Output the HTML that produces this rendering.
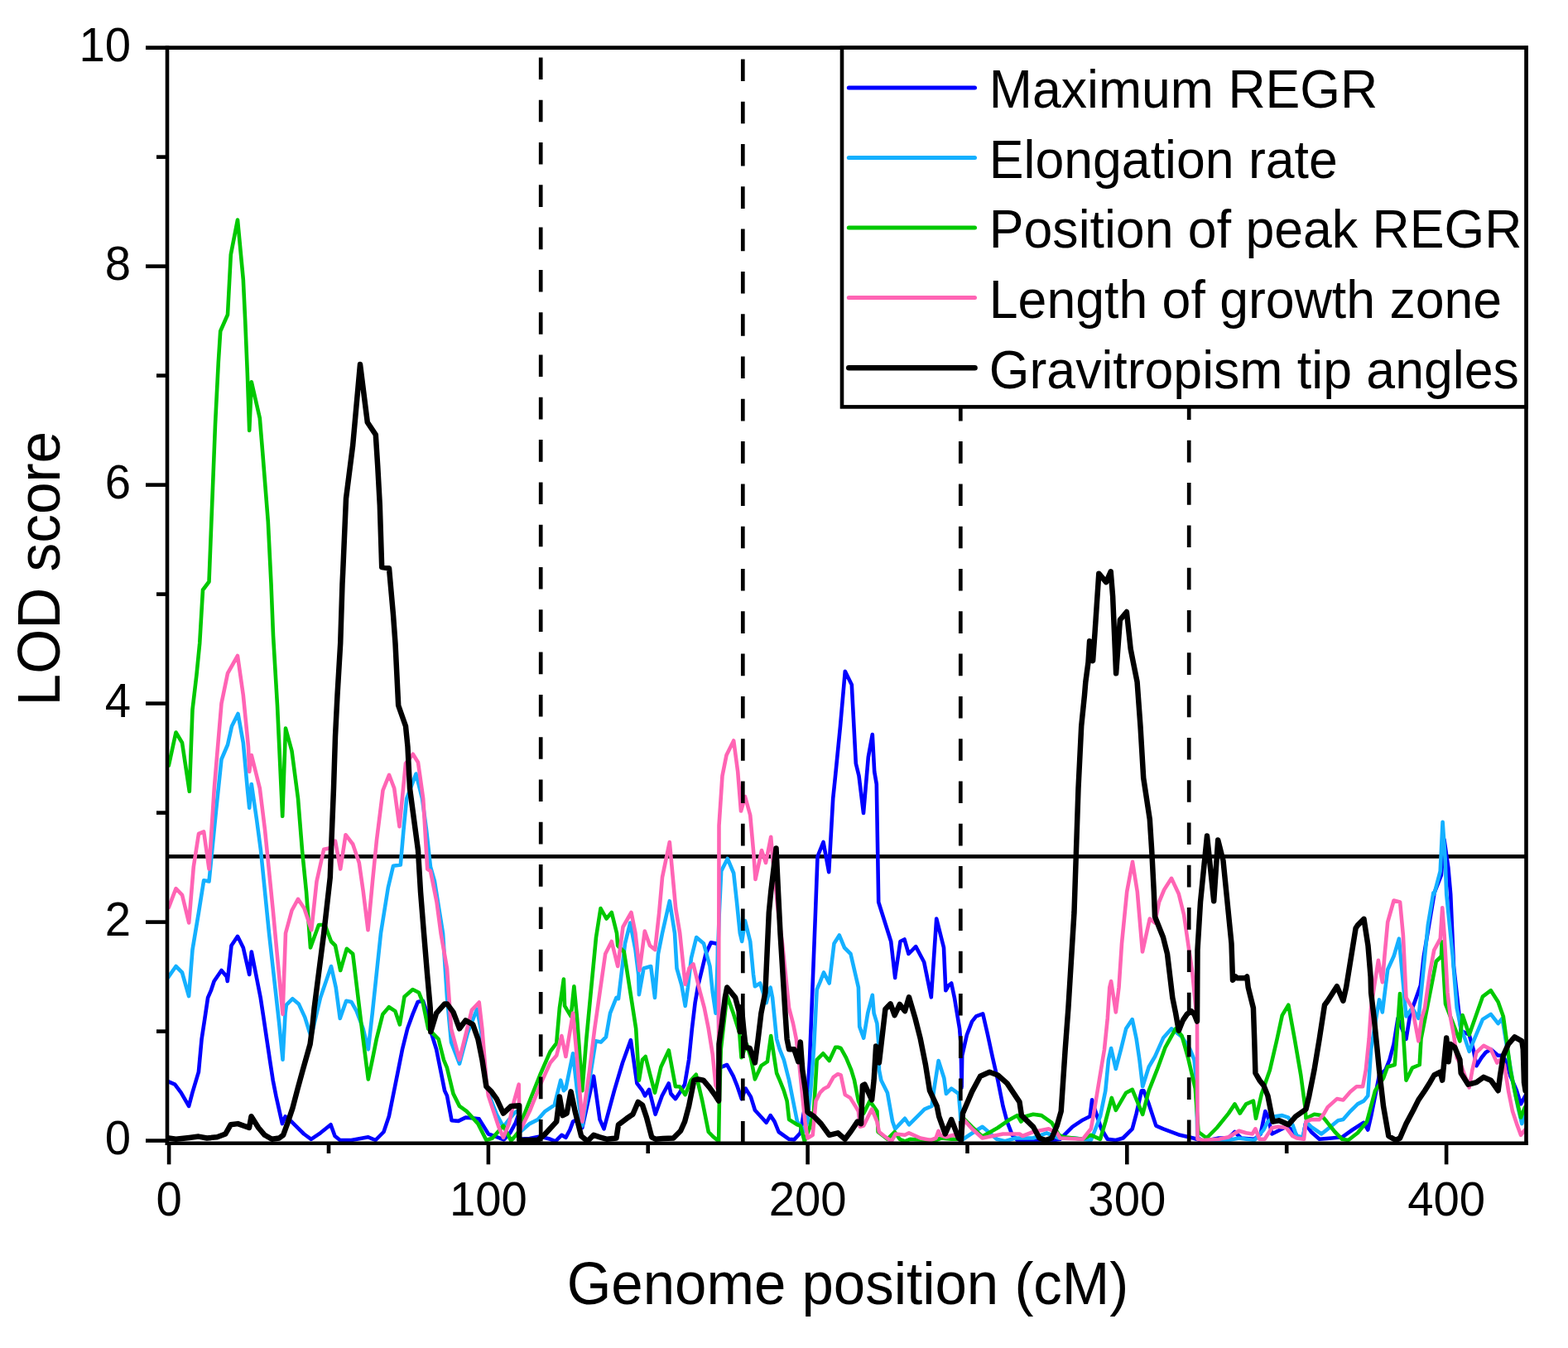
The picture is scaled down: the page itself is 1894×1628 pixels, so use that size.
<!DOCTYPE html>
<html><head><meta charset="utf-8"><title>LOD score plot</title>
<style>html,body{margin:0;padding:0;background:#fff;}svg{display:block;}
text{font-family:"Liberation Sans",Arial,sans-serif;fill:#000;}</style></head>
<body><svg width="1894" height="1628" viewBox="0 0 1894 1628">
<rect width="1894" height="1628" fill="#fff"/>
<defs><clipPath id="pc"><rect x="202" y="57.6" width="1641.5" height="1323"/></clipPath></defs>
<line x1="202" y1="1034.4" x2="1843.5" y2="1034.4" stroke="#000" stroke-width="4.7"/>
<g clip-path="url(#pc)" fill="none" stroke-linejoin="round" stroke-linecap="round">
<path d="M202.5 1305.9 L211.2 1309.7 L218.7 1319.7 L228.1 1335.9 L232.4 1319.7 L239.9 1294.7 L243.6 1254.8 L247.4 1229.9 L251.1 1204.9 L254.9 1196.2 L258.6 1185.0 L267.5 1172.0 L273.8 1179.5 L274.8 1185.0 L279.5 1142.0 L287.0 1130.8 L293.8 1144.5 L301.2 1177.0 L303.8 1149.5 L314.7 1204.9 L318.5 1229.9 L322.2 1254.8 L325.9 1279.8 L329.7 1304.7 L333.4 1323.4 L340.9 1357.1 L344.6 1348.3 L350.9 1353.3 L358.4 1360.8 L367.1 1369.5 L375.8 1375.8 L387.0 1368.3 L399.5 1358.3 L404.5 1372.0 L410.7 1377.0 L424.4 1377.0 L444.8 1373.3 L453.6 1377.0 L463.5 1367.0 L469.8 1348.3 L474.8 1323.4 L479.8 1298.5 L486.0 1267.3 L492.2 1242.3 L498.5 1224.9 L504.7 1209.9 L510.9 1208.7 L515.9 1223.6 L520.9 1247.3 L527.1 1267.3 L532.1 1292.2 L537.1 1317.2 L540.0 1323.4 L545.6 1353.3 L553.7 1353.9 L562.4 1349.6 L569.9 1350.2 L578.7 1351.4 L589.9 1369.5 L598.6 1372.6 L608.6 1376.4 L616.1 1368.3 L622.9 1355.8 L626.0 1347.1 L626.9 1375.8 L639.8 1375.1 L652.2 1372.6 L664.7 1375.8 L670.9 1378.3 L678.4 1370.8 L683.4 1373.9 L688.4 1364.5 L692.1 1354.6 L697.1 1352.1 L703.3 1362.0 L717.1 1299.7 L724.5 1352.1 L729.5 1363.3 L742.0 1317.2 L752.0 1283.5 L761.9 1256.1 L769.4 1308.4 L776.0 1317.2 L779.1 1323.4 L784.1 1315.9 L791.6 1345.8 L799.7 1323.4 L807.8 1308.4 L810.3 1320.9 L815.9 1327.1 L820.9 1319.7 L827.1 1309.7 L832.1 1279.8 L835.9 1242.3 L839.6 1211.2 L843.3 1190.0 L852.5 1152.0 L858.8 1138.2 L865.0 1139.5 L867.0 1139.5 L868.9 1289.7 L878.2 1286.0 L885.7 1299.7 L890.7 1312.2 L895.7 1327.1 L900.7 1314.7 L906.9 1324.6 L911.9 1340.8 L925.6 1355.8 L930.6 1347.1 L935.6 1354.6 L940.6 1367.0 L953.1 1375.8 L959.3 1376.4 L966.8 1368.3 L970.5 1345.8 L975.5 1323.4 L978.0 1279.8 L980.5 1217.4 L985.0 1102.0 L987.5 1034.5 L994.5 1017.0 L1001.2 1053.2 L1006.2 964.5 L1008.8 939.5 L1015.0 877.0 L1020.8 810.8 L1028.8 827.0 L1033.8 922.0 L1037.5 937.0 L1043.0 982.0 L1048.8 914.5 L1053.8 887.0 L1056.2 932.0 L1058.8 947.0 L1061.2 1089.5 L1076.2 1137.0 L1081.2 1181.0 L1081.2 1179.5 L1087.5 1137.0 L1092.5 1134.5 L1097.5 1152.0 L1106.2 1143.2 L1116.2 1162.0 L1124.8 1204.3 L1131.2 1109.5 L1140.0 1144.5 L1142.3 1196.2 L1146.0 1190.0 L1149.2 1187.5 L1152.9 1204.9 L1156.6 1227.4 L1159.1 1242.3 L1160.6 1261.0 L1161.6 1313.4 L1162.2 1274.8 L1167.9 1249.8 L1174.1 1233.6 L1179.1 1227.4 L1187.2 1224.3 L1192.8 1248.6 L1199.0 1277.3 L1205.3 1304.7 L1211.5 1335.9 L1216.5 1354.6 L1222.7 1370.8 L1229.0 1377.0 L1236.4 1377.0 L1248.0 1377.0 L1266.7 1378.3 L1280.4 1375.8 L1295.4 1360.8 L1306.6 1353.3 L1316.6 1348.3 L1319.1 1328.4 L1321.6 1337.1 L1325.3 1348.3 L1330.3 1363.3 L1337.8 1375.8 L1347.8 1377.0 L1356.5 1374.5 L1367.7 1363.3 L1372.7 1344.6 L1378.9 1317.2 L1381.4 1317.2 L1387.7 1333.4 L1396.4 1359.6 L1405.1 1363.3 L1425.1 1370.8 L1441.3 1374.5 L1453.7 1378.3 L1472.4 1374.5 L1484.0 1374.5 L1491.5 1367.0 L1499.0 1374.5 L1515.2 1375.8 L1522.7 1369.5 L1528.3 1342.1 L1531.4 1348.3 L1536.4 1369.5 L1546.3 1364.5 L1553.8 1360.8 L1561.3 1364.5 L1568.8 1374.5 L1573.8 1374.5 L1576.9 1357.1 L1583.8 1367.0 L1593.7 1375.8 L1608.7 1374.5 L1621.2 1373.3 L1633.6 1364.5 L1647.3 1355.8 L1652.3 1364.5 L1656.1 1348.3 L1661.1 1323.4 L1666.0 1298.5 L1673.5 1292.2 L1678.5 1279.8 L1683.5 1261.0 L1688.5 1229.9 L1698.5 1254.8 L1703.5 1223.6 L1708.4 1211.2 L1715.9 1190.0 L1719.8 1154.8 L1732.3 1080.0 L1732.6 1078.2 L1740.9 1056.8 L1744.5 1014.0 L1749.3 1047.3 L1752.2 1080.0 L1756.0 1167.3 L1764.7 1244.8 L1774.7 1249.8 L1779.7 1267.3 L1783.4 1287.2 L1789.6 1277.3 L1794.6 1271.0 L1800.8 1267.3 L1809.6 1274.8 L1814.6 1274.8 L1819.6 1282.2 L1824.5 1299.7 L1832.0 1317.2 L1837.0 1333.4 L1843.2 1322.1" stroke="#0000ff" stroke-width="4.6"/>
<path d="M202.5 1181.2 L203.8 1179.5 L212.5 1167.0 L220.0 1174.5 L228.1 1203.1 L232.5 1147.0 L240.0 1102.0 L246.2 1063.2 L252.5 1064.5 L255.0 1039.5 L261.2 977.0 L267.5 917.0 L275.0 899.5 L280.0 877.0 L287.5 862.0 L293.8 897.0 L298.8 952.0 L301.2 975.8 L303.8 947.0 L310.0 989.5 L315.0 1027.0 L320.0 1077.0 L325.0 1127.0 L337.2 1236.1 L341.5 1279.8 L344.6 1223.6 L345.9 1213.7 L353.4 1206.2 L360.8 1212.4 L368.3 1228.6 L373.3 1244.8 L375.8 1252.3 L379.6 1236.1 L387.0 1204.9 L400.0 1167.0 L405.7 1192.5 L410.7 1229.9 L418.2 1208.7 L424.4 1209.9 L430.7 1221.1 L438.6 1242.3 L444.8 1267.3 L449.8 1223.6 L460.0 1127.0 L468.8 1072.0 L475.0 1045.8 L483.8 1044.5 L487.5 1002.0 L491.2 964.5 L502.5 934.5 L510.0 964.5 L515.0 1002.0 L520.0 1047.0 L525.0 1064.5 L535.0 1127.0 L540.0 1204.9 L545.0 1258.6 L555.0 1284.7 L564.9 1247.3 L576.2 1218.7 L581.1 1244.8 L587.4 1310.9 L593.6 1329.6 L599.9 1345.8 L608.0 1360.8 L614.8 1352.1 L621.0 1344.6 L626.0 1340.8 L629.8 1365.8 L639.8 1357.1 L649.7 1352.1 L658.5 1342.1 L669.7 1334.6 L677.2 1304.7 L680.9 1317.2 L683.4 1314.7 L692.1 1272.3 L697.1 1317.2 L703.3 1359.6 L712.1 1304.7 L719.6 1257.3 L725.8 1258.6 L732.0 1252.3 L737.0 1223.6 L744.5 1204.9 L747.0 1206.2 L755.0 1139.5 L761.2 1114.5 L767.5 1147.0 L771.2 1177.0 L771.9 1201.2 L777.5 1169.5 L786.2 1167.0 L791.0 1204.9 L795.0 1152.0 L800.0 1127.0 L808.8 1088.2 L815.0 1127.0 L817.5 1169.5 L823.4 1190.0 L827.7 1214.9 L830.9 1192.5 L835.0 1157.0 L841.2 1132.0 L850.0 1139.5 L857.5 1167.0 L860.8 1198.7 L864.5 1223.6 L868.8 1102.0 L871.2 1052.0 L878.8 1037.0 L886.2 1054.5 L890.0 1089.5 L893.8 1127.0 L896.2 1137.0 L900.0 1112.0 L906.2 1137.0 L910.0 1177.0 L911.9 1191.2 L918.1 1187.5 L920.6 1195.0 L925.6 1211.2 L930.6 1192.5 L933.1 1204.9 L938.1 1254.8 L941.8 1267.3 L946.8 1279.8 L953.1 1304.7 L958.0 1329.6 L963.0 1354.6 L966.8 1359.6 L970.5 1367.0 L975.5 1354.6 L979.2 1317.2 L983.0 1267.3 L986.7 1195.0 L990.5 1186.2 L995.0 1174.5 L1001.7 1187.5 L1007.5 1139.5 L1013.8 1129.5 L1020.0 1144.5 L1027.5 1152.0 L1036.9 1192.5 L1038.2 1239.9 L1043.2 1253.6 L1048.2 1223.6 L1053.8 1201.8 L1055.6 1223.6 L1059.4 1236.1 L1061.3 1261.0 L1061.9 1292.2 L1064.4 1304.7 L1071.9 1319.7 L1078.1 1354.6 L1081.2 1363.3 L1093.0 1350.8 L1098.0 1358.3 L1111.8 1344.6 L1116.7 1339.6 L1125.5 1335.9 L1128.0 1317.2 L1133.6 1281.0 L1140.4 1302.2 L1142.9 1320.9 L1149.2 1314.7 L1157.9 1320.9 L1159.8 1342.1 L1161.6 1377.0 L1172.8 1369.5 L1186.6 1360.8 L1194.0 1367.0 L1204.0 1375.8 L1214.0 1378.3 L1226.5 1374.5 L1236.4 1374.5 L1248.0 1374.5 L1264.2 1368.3 L1279.2 1374.5 L1297.9 1374.5 L1317.8 1377.0 L1322.8 1364.5 L1329.0 1348.3 L1335.3 1317.2 L1339.0 1279.8 L1342.1 1266.0 L1347.8 1291.0 L1354.0 1267.3 L1360.2 1242.3 L1367.7 1231.1 L1372.7 1254.8 L1376.4 1279.8 L1380.2 1312.2 L1387.7 1288.5 L1395.1 1276.0 L1405.1 1253.6 L1415.1 1242.3 L1427.6 1252.3 L1437.5 1267.3 L1442.5 1279.8 L1445.0 1304.7 L1446.3 1373.3 L1453.7 1378.3 L1472.4 1377.0 L1484.0 1377.0 L1496.5 1374.5 L1515.2 1377.0 L1526.4 1364.5 L1531.4 1354.6 L1540.1 1348.3 L1548.8 1347.1 L1556.3 1349.6 L1561.3 1358.3 L1566.3 1372.0 L1573.8 1373.3 L1577.5 1354.6 L1583.8 1360.8 L1596.2 1369.5 L1608.7 1359.6 L1616.2 1353.3 L1622.4 1352.1 L1631.1 1342.1 L1639.9 1333.4 L1647.3 1329.6 L1652.3 1323.4 L1656.1 1267.3 L1661.1 1236.1 L1666.0 1207.4 L1669.8 1222.4 L1673.5 1192.5 L1676.2 1171.0 L1683.6 1154.8 L1689.9 1133.6 L1698.5 1227.4 L1705.9 1217.4 L1713.4 1229.9 L1718.6 1179.8 L1724.8 1117.4 L1731.4 1078.2 L1732.3 1080.0 L1739.7 1052.1 L1742.6 992.7 L1745.7 1037.8 L1747.2 1080.0 L1754.7 1154.8 L1759.7 1217.4 L1764.7 1242.3 L1769.7 1254.8 L1774.7 1269.8 L1780.9 1254.8 L1790.9 1231.1 L1800.8 1224.9 L1809.6 1236.1 L1814.6 1229.9 L1819.6 1261.0 L1827.0 1304.7 L1833.3 1335.9 L1838.3 1357.1 L1842.0 1342.1" stroke="#14b0ff" stroke-width="4.6"/>
<path d="M203.8 924.5 L212.5 884.5 L220.0 897.0 L228.8 955.8 L232.5 857.0 L237.5 814.5 L241.2 777.0 L245.0 712.5 L252.5 702.5 L260.0 512.5 L263.8 437.5 L266.2 400.0 L275.0 380.0 L278.8 307.5 L287.0 265.5 L293.8 337.5 L296.2 387.5 L298.8 450.0 L301.2 520.0 L303.8 461.2 L313.8 505.0 L317.5 550.0 L323.8 630.0 L327.5 705.0 L330.0 767.5 L335.0 852.0 L341.2 985.8 L345.0 879.5 L352.5 907.0 L360.0 964.5 L365.0 1027.0 L370.0 1077.0 L375.0 1144.5 L385.0 1117.0 L392.5 1117.0 L400.0 1137.0 L405.0 1142.0 L411.2 1172.0 L418.8 1145.8 L426.2 1152.0 L438.6 1254.8 L444.8 1303.4 L449.8 1279.8 L454.8 1254.8 L462.3 1224.9 L469.8 1216.2 L477.3 1221.1 L482.9 1237.4 L488.5 1203.7 L498.5 1195.0 L505.9 1198.7 L510.9 1211.2 L517.2 1242.3 L523.4 1248.6 L529.6 1254.8 L535.9 1279.8 L540.0 1289.7 L547.5 1320.9 L555.0 1335.9 L563.7 1342.1 L577.4 1357.1 L587.4 1377.0 L594.9 1374.5 L608.0 1359.6 L617.3 1377.6 L622.3 1372.0 L626.0 1367.0 L627.3 1360.8 L629.8 1354.6 L639.8 1329.6 L652.2 1298.5 L664.7 1269.8 L672.2 1259.8 L675.9 1217.4 L680.9 1182.5 L682.1 1214.9 L689.6 1227.4 L693.4 1191.2 L697.1 1229.9 L703.3 1317.2 L708.3 1254.8 L720.0 1132.0 L725.5 1097.0 L732.5 1109.5 L738.8 1102.0 L745.0 1127.0 L746.2 1142.0 L753.8 1149.5 L768.2 1242.3 L771.9 1304.7 L776.0 1279.8 L779.7 1276.0 L785.4 1298.5 L791.0 1319.7 L798.4 1288.5 L807.8 1268.5 L815.9 1312.2 L820.9 1312.2 L827.7 1322.1 L834.6 1304.7 L840.8 1297.8 L843.3 1308.4 L848.3 1329.6 L855.8 1367.0 L862.0 1373.3 L868.1 1378.3 L868.9 1329.6 L870.8 1267.3 L878.2 1202.4 L885.7 1223.6 L893.2 1247.3 L895.5 1277.3 L901.9 1261.0 L906.9 1277.3 L911.9 1303.4 L919.4 1287.2 L926.9 1282.2 L931.2 1251.1 L938.1 1296.0 L941.8 1304.7 L946.8 1317.2 L950.6 1329.6 L953.1 1352.1 L963.0 1358.3 L966.8 1359.6 L971.8 1378.3 L978.0 1362.0 L983.0 1342.1 L986.7 1279.8 L994.2 1272.3 L1001.7 1281.0 L1009.2 1264.8 L1012.0 1264.8 L1015.7 1266.0 L1022.0 1277.3 L1028.2 1292.2 L1032.0 1304.7 L1036.9 1329.6 L1043.2 1344.6 L1050.7 1329.6 L1059.4 1342.1 L1060.6 1367.0 L1071.9 1375.8 L1080.6 1367.0 L1086.8 1375.8 L1093.0 1378.3 L1099.3 1375.8 L1118.0 1377.0 L1130.5 1377.0 L1136.7 1374.5 L1149.2 1375.8 L1161.6 1375.8 L1162.9 1349.6 L1174.1 1360.8 L1186.6 1372.6 L1196.5 1367.0 L1205.3 1362.0 L1217.7 1353.3 L1229.0 1347.1 L1233.3 1354.6 L1238.9 1348.3 L1248.0 1345.8 L1258.0 1347.1 L1270.4 1355.8 L1279.2 1370.8 L1285.4 1373.3 L1307.9 1375.8 L1317.8 1370.8 L1329.0 1375.8 L1335.3 1354.6 L1342.8 1325.9 L1347.8 1340.8 L1360.2 1319.7 L1367.7 1315.9 L1380.2 1345.8 L1387.7 1317.2 L1397.6 1292.2 L1407.6 1264.8 L1420.1 1242.3 L1427.6 1251.1 L1435.0 1277.3 L1443.8 1314.7 L1447.5 1367.0 L1457.5 1374.5 L1469.9 1362.0 L1484.0 1344.6 L1491.5 1333.4 L1497.7 1344.6 L1505.2 1333.4 L1513.9 1329.6 L1517.0 1350.8 L1523.9 1320.9 L1533.9 1292.2 L1542.6 1254.8 L1548.8 1226.1 L1556.3 1213.7 L1563.8 1254.8 L1571.3 1298.5 L1576.3 1335.9 L1577.5 1350.8 L1587.5 1345.8 L1596.2 1347.1 L1602.5 1354.6 L1612.4 1367.0 L1621.2 1375.8 L1628.6 1377.0 L1639.9 1368.3 L1651.1 1354.6 L1656.1 1335.9 L1661.1 1317.2 L1671.0 1302.2 L1676.0 1288.5 L1684.7 1286.0 L1688.5 1236.1 L1691.0 1200.0 L1694.7 1242.3 L1698.5 1304.7 L1705.9 1289.7 L1714.7 1286.0 L1716.5 1254.8 L1734.8 1161.0 L1741.0 1154.8 L1741.6 1137.4 L1746.0 1212.4 L1754.7 1234.9 L1763.4 1257.3 L1766.6 1226.1 L1774.7 1249.8 L1790.9 1203.7 L1800.8 1196.2 L1809.6 1209.9 L1815.8 1227.4 L1819.6 1254.8 L1824.5 1292.2 L1830.8 1323.4 L1837.0 1349.6 L1842.0 1337.1" stroke="#00c800" stroke-width="4.6"/>
<path d="M203.8 1095.8 L212.5 1073.2 L220.0 1080.8 L228.2 1114.5 L233.8 1047.0 L240.0 1007.0 L246.2 1004.5 L252.5 1049.5 L258.8 952.0 L267.5 849.5 L275.0 813.2 L287.0 792.0 L293.8 839.5 L300.0 902.0 L301.2 932.0 L303.8 912.0 L313.8 952.0 L320.0 1002.0 L325.0 1052.0 L330.0 1102.0 L341.5 1224.9 L345.0 1127.0 L352.5 1099.5 L360.0 1085.8 L367.5 1097.0 L376.2 1123.2 L382.5 1064.5 L391.2 1025.8 L397.5 1024.5 L405.0 1015.8 L411.2 1049.5 L417.5 1008.2 L426.2 1019.5 L433.8 1042.0 L438.8 1077.0 L444.5 1123.2 L450.0 1064.5 L455.0 1014.5 L462.5 954.5 L470.0 935.8 L476.2 952.0 L482.5 998.2 L490.0 922.0 L498.8 910.8 L505.0 920.8 L511.2 964.5 L516.2 1049.5 L520.0 1052.0 L527.5 1089.5 L532.5 1127.0 L540.0 1170.0 L545.0 1242.3 L555.0 1279.8 L569.9 1219.9 L578.7 1210.5 L582.4 1242.3 L587.4 1304.7 L589.9 1323.4 L596.1 1342.1 L602.3 1360.8 L608.0 1373.9 L614.8 1357.1 L621.0 1329.6 L626.7 1309.7 L627.5 1367.0 L639.8 1342.1 L652.2 1310.9 L664.7 1283.5 L672.2 1274.8 L678.4 1251.1 L683.4 1276.0 L692.1 1223.6 L697.1 1279.8 L703.3 1354.6 L712.1 1292.2 L718.3 1242.3 L731.2 1152.0 L738.8 1137.0 L746.2 1167.0 L752.5 1119.5 L762.5 1102.0 L767.5 1127.0 L772.5 1172.0 L778.8 1124.5 L785.0 1142.0 L791.2 1147.0 L796.2 1102.0 L800.0 1059.5 L808.8 1017.0 L816.2 1097.0 L821.2 1127.0 L827.7 1188.7 L832.5 1169.5 L837.5 1164.5 L845.8 1198.7 L850.8 1217.4 L855.8 1242.3 L860.8 1273.5 L864.5 1310.9 L868.0 1317.2 L868.5 997.0 L872.5 937.0 L877.5 912.0 L886.2 894.5 L891.2 932.0 L895.0 979.5 L900.0 962.0 L906.2 984.5 L910.0 1027.0 L912.5 1062.0 L920.0 1027.0 L925.0 1042.0 L931.2 1010.8 L933.8 1042.0 L935.0 1052.0 L940.0 1102.0 L945.0 1139.5 L953.1 1217.4 L958.0 1236.1 L961.8 1254.8 L965.5 1286.0 L968.6 1317.2 L972.4 1354.6 L975.5 1374.5 L981.7 1370.8 L985.5 1329.6 L990.5 1319.7 L995.5 1314.7 L1000.4 1312.2 L1006.7 1300.9 L1012.0 1297.2 L1015.7 1298.5 L1020.7 1322.1 L1027.0 1325.9 L1033.2 1335.9 L1036.9 1342.1 L1038.8 1360.8 L1043.2 1359.6 L1053.1 1339.6 L1059.4 1354.6 L1061.9 1367.0 L1068.1 1372.0 L1076.8 1378.3 L1081.8 1369.5 L1093.0 1370.8 L1098.0 1368.3 L1111.8 1374.5 L1124.2 1377.0 L1130.5 1374.5 L1133.6 1365.8 L1135.4 1370.8 L1142.9 1373.3 L1151.7 1370.8 L1161.6 1374.5 L1164.1 1352.1 L1174.1 1363.3 L1186.6 1374.5 L1199.0 1372.0 L1211.5 1369.5 L1231.5 1369.5 L1235.2 1372.0 L1248.0 1367.0 L1266.7 1363.3 L1276.7 1368.3 L1280.4 1374.5 L1307.9 1375.8 L1317.8 1363.3 L1321.6 1342.1 L1327.8 1304.7 L1334.0 1267.3 L1337.8 1229.9 L1340.3 1192.5 L1342.1 1185.0 L1347.8 1222.4 L1351.5 1192.5 L1355.0 1139.5 L1361.2 1077.0 L1368.0 1040.8 L1373.8 1077.0 L1380.0 1149.5 L1388.8 1109.5 L1395.0 1114.5 L1400.0 1089.5 L1406.2 1074.5 L1415.0 1060.8 L1423.8 1079.5 L1430.0 1104.5 L1436.2 1147.0 L1440.0 1172.0 L1444.4 1217.4 L1446.0 1236.1 L1446.5 1375.8 L1453.7 1377.0 L1472.4 1375.8 L1484.0 1373.3 L1496.5 1365.8 L1505.2 1368.3 L1512.7 1369.5 L1516.4 1363.3 L1521.4 1375.8 L1527.6 1375.8 L1536.4 1362.0 L1543.9 1360.8 L1553.8 1362.0 L1561.3 1372.0 L1566.3 1374.5 L1575.0 1375.8 L1577.5 1354.6 L1583.8 1352.1 L1593.7 1352.1 L1598.7 1345.8 L1603.7 1337.1 L1614.9 1327.1 L1622.4 1328.4 L1631.1 1318.4 L1638.6 1312.2 L1646.1 1312.2 L1649.8 1292.2 L1653.6 1254.8 L1656.1 1217.4 L1659.8 1192.5 L1664.9 1159.8 L1669.8 1186.2 L1672.4 1154.8 L1676.2 1113.7 L1683.6 1087.5 L1691.1 1089.4 L1694.9 1129.9 L1698.5 1204.9 L1705.9 1217.4 L1713.4 1257.3 L1717.2 1229.9 L1721.0 1217.4 L1727.3 1173.5 L1732.3 1147.3 L1739.8 1133.6 L1742.2 1096.2 L1744.7 1129.9 L1748.5 1198.7 L1752.2 1229.9 L1756.0 1249.8 L1759.7 1277.3 L1764.7 1286.0 L1769.7 1299.7 L1774.7 1313.4 L1778.4 1292.2 L1783.4 1271.0 L1792.1 1262.9 L1800.8 1267.3 L1808.3 1283.5 L1812.1 1279.8 L1817.1 1286.0 L1822.0 1317.2 L1827.0 1342.1 L1832.0 1357.1 L1837.0 1370.8 L1843.2 1363.3" stroke="#ff64b4" stroke-width="4.6"/>
<path d="M203.7 1374.5 L212.5 1375.8 L228.7 1373.9 L239.9 1372.6 L249.9 1374.5 L262.3 1373.3 L272.3 1369.5 L278.6 1358.3 L287.3 1357.1 L301.0 1362.0 L303.5 1348.3 L312.2 1362.0 L319.7 1370.8 L328.4 1375.8 L337.2 1374.5 L342.1 1370.8 L347.1 1357.1 L353.4 1338.4 L359.6 1314.7 L365.8 1292.2 L374.6 1261.0 L377.1 1242.3 L379.6 1217.4 L391.2 1127.0 L398.8 1059.5 L400.0 1027.0 L403.0 952.0 L405.0 889.5 L407.5 839.5 L411.2 777.0 L413.5 705.0 L414.2 690.5 L418.0 602.0 L426.2 537.5 L435.0 440.0 L443.8 510.0 L453.8 525.0 L456.2 562.5 L458.8 610.0 L461.2 685.0 L470.0 686.2 L475.0 742.5 L477.5 777.0 L481.2 852.0 L490.0 877.0 L492.5 902.0 L495.0 952.0 L500.0 989.5 L505.0 1027.0 L508.0 1077.0 L512.0 1127.0 L516.0 1175.5 L519.7 1217.4 L520.3 1246.1 L527.1 1223.6 L537.1 1212.4 L540.0 1212.4 L547.5 1222.4 L555.0 1242.3 L562.4 1232.4 L571.2 1237.4 L577.4 1254.8 L582.4 1279.8 L587.4 1312.2 L593.6 1318.4 L599.9 1327.1 L608.0 1344.6 L617.3 1335.9 L627.2 1335.2 L627.3 1377.0 L649.7 1377.0 L658.5 1369.5 L672.2 1354.6 L675.9 1324.6 L679.7 1347.1 L684.6 1344.6 L689.6 1318.4 L694.6 1342.1 L702.1 1372.0 L709.6 1378.3 L717.1 1370.8 L724.5 1373.3 L733.3 1375.8 L744.5 1374.5 L747.0 1358.3 L757.0 1350.8 L764.4 1345.8 L770.7 1330.9 L776.0 1334.6 L781.0 1349.6 L787.2 1373.3 L792.2 1375.8 L800.9 1375.1 L813.4 1374.5 L822.1 1365.8 L827.1 1354.6 L832.1 1335.9 L838.3 1304.7 L843.3 1303.4 L849.6 1304.7 L857.0 1313.4 L863.3 1322.1 L868.1 1329.6 L868.5 1261.0 L872.0 1236.1 L875.8 1204.9 L878.2 1192.5 L888.2 1204.9 L892.6 1221.1 L893.8 1246.1 L895.7 1216.2 L898.2 1242.3 L900.7 1264.8 L905.7 1266.0 L911.9 1283.5 L915.7 1254.8 L919.4 1223.6 L924.4 1198.7 L928.8 1102.0 L931.2 1077.0 L937.5 1024.5 L940.0 1077.0 L942.5 1127.0 L948.1 1217.4 L950.6 1254.8 L953.1 1267.3 L959.3 1267.3 L964.3 1282.2 L966.8 1258.6 L969.3 1292.2 L973.0 1317.2 L975.5 1343.3 L983.0 1348.3 L991.7 1357.1 L1001.7 1370.8 L1012.0 1368.3 L1020.7 1375.8 L1028.2 1365.8 L1035.7 1354.6 L1040.1 1357.1 L1041.9 1310.9 L1044.4 1309.7 L1053.1 1328.4 L1055.6 1304.7 L1058.1 1263.5 L1061.9 1283.5 L1069.4 1218.7 L1075.6 1212.4 L1080.6 1226.1 L1086.8 1213.0 L1093.0 1221.1 L1098.0 1204.3 L1105.5 1229.9 L1111.8 1254.8 L1118.0 1286.0 L1123.0 1317.2 L1131.7 1335.9 L1134.2 1348.3 L1141.7 1369.5 L1149.2 1352.1 L1157.9 1374.5 L1161.0 1377.0 L1162.9 1344.6 L1174.1 1318.4 L1184.1 1299.7 L1195.3 1294.7 L1205.3 1298.5 L1216.5 1308.4 L1231.5 1330.9 L1233.9 1347.1 L1248.0 1360.8 L1255.5 1374.5 L1263.0 1377.0 L1270.4 1374.5 L1276.7 1359.6 L1281.7 1342.1 L1284.2 1304.7 L1286.7 1267.3 L1290.4 1217.4 L1297.5 1102.0 L1300.0 1027.0 L1302.5 952.0 L1306.2 877.0 L1310.0 839.5 L1311.3 823.7 L1314.5 799.7 L1316.1 774.2 L1320.1 798.1 L1322.5 764.6 L1327.3 692.7 L1336.1 703.1 L1341.7 690.3 L1344.1 719.9 L1348.1 813.3 L1352.9 748.6 L1360.9 739.0 L1365.7 783.8 L1368.8 799.7 L1373.6 823.7 L1377.5 877.0 L1381.2 939.5 L1388.8 989.5 L1391.2 1027.0 L1393.8 1077.0 L1395.0 1107.0 L1405.0 1132.0 L1410.0 1152.0 L1416.3 1204.9 L1420.1 1223.6 L1423.8 1244.8 L1428.8 1232.4 L1433.8 1224.9 L1438.8 1221.1 L1442.5 1224.9 L1446.0 1233.6 L1446.5 1147.0 L1450.0 1089.5 L1458.0 1009.5 L1466.2 1088.2 L1471.2 1014.5 L1477.5 1039.5 L1482.5 1089.5 L1487.5 1139.5 L1489.0 1183.7 L1492.5 1179.5 L1494.0 1181.2 L1504.0 1181.2 L1506.2 1179.5 L1507.7 1192.5 L1513.9 1217.4 L1515.2 1254.8 L1516.4 1296.0 L1521.4 1304.7 L1526.4 1310.9 L1531.4 1323.4 L1535.1 1342.1 L1537.6 1354.6 L1545.1 1353.3 L1556.3 1358.3 L1565.0 1348.3 L1577.5 1339.6 L1581.3 1323.4 L1587.5 1292.2 L1593.7 1254.8 L1600.0 1213.7 L1603.7 1208.7 L1614.9 1191.2 L1622.4 1208.7 L1626.1 1192.5 L1637.6 1121.0 L1640.0 1117.4 L1647.5 1109.9 L1652.5 1142.3 L1655.6 1179.8 L1656.1 1198.7 L1659.8 1229.9 L1666.0 1292.2 L1671.0 1335.9 L1677.3 1372.0 L1686.0 1377.0 L1691.0 1374.5 L1698.5 1357.1 L1707.2 1340.8 L1713.4 1328.4 L1721.0 1317.2 L1727.3 1307.2 L1732.3 1298.5 L1739.8 1294.7 L1742.2 1304.7 L1747.2 1253.6 L1749.7 1282.2 L1752.2 1261.0 L1757.2 1264.8 L1763.4 1279.8 L1764.7 1296.0 L1773.4 1309.7 L1783.4 1307.2 L1792.1 1300.9 L1800.8 1304.7 L1809.6 1317.2 L1812.1 1298.5 L1815.8 1274.8 L1822.0 1261.0 L1829.5 1252.3 L1838.3 1257.3 L1839.8 1267.3 L1841.0 1307.2 L1842.6 1317.2" stroke="#000" stroke-width="6.5"/>
</g>
<line x1="653.2" y1="1378.5" x2="653.2" y2="57.6" stroke="#000" stroke-width="4.7" stroke-dasharray="26.6 24.7"/>
<line x1="897.3" y1="1380.5" x2="897.3" y2="57.6" stroke="#000" stroke-width="4.7" stroke-dasharray="26.6 24.7"/>
<line x1="1160.3" y1="1380.5" x2="1160.3" y2="57.6" stroke="#000" stroke-width="4.7" stroke-dasharray="26.6 24.7"/>
<line x1="1436.2" y1="1379.2" x2="1436.2" y2="57.6" stroke="#000" stroke-width="4.7" stroke-dasharray="26.6 24.7"/>
<g stroke="#000" stroke-width="4.6" fill="none">
<line x1="202" y1="55.3" x2="202" y2="1383.1"/>
<line x1="1843.5" y1="55.3" x2="1843.5" y2="1383.1"/>
<line x1="176" y1="57.6" x2="1845.8" y2="57.6"/>
<line x1="199.7" y1="1380.8" x2="1845.8" y2="1380.8"/>
<line x1="176.0" y1="1377.6" x2="202" y2="1377.6"/>
<line x1="189.0" y1="1245.6" x2="202" y2="1245.6"/>
<line x1="176.0" y1="1113.6" x2="202" y2="1113.6"/>
<line x1="189.0" y1="981.6" x2="202" y2="981.6"/>
<line x1="176.0" y1="849.6" x2="202" y2="849.6"/>
<line x1="189.0" y1="717.6" x2="202" y2="717.6"/>
<line x1="176.0" y1="585.6" x2="202" y2="585.6"/>
<line x1="189.0" y1="453.6" x2="202" y2="453.6"/>
<line x1="176.0" y1="321.6" x2="202" y2="321.6"/>
<line x1="189.0" y1="189.6" x2="202" y2="189.6"/>
<line x1="204.1" y1="1380.8" x2="204.1" y2="1406.3"/>
<line x1="397.0" y1="1380.8" x2="397.0" y2="1393.0"/>
<line x1="589.9" y1="1380.8" x2="589.9" y2="1406.3"/>
<line x1="782.7" y1="1380.8" x2="782.7" y2="1393.0"/>
<line x1="975.6" y1="1380.8" x2="975.6" y2="1406.3"/>
<line x1="1168.5" y1="1380.8" x2="1168.5" y2="1393.0"/>
<line x1="1361.3" y1="1380.8" x2="1361.3" y2="1406.3"/>
<line x1="1554.2" y1="1380.8" x2="1554.2" y2="1393.0"/>
<line x1="1747.1" y1="1380.8" x2="1747.1" y2="1406.3"/>
</g>
<rect x="1017" y="57.6" width="826.5" height="433.8" fill="#fff" stroke="#000" stroke-width="4.6"/>
<line x1="1025.3" y1="106.0" x2="1177.5" y2="106.0" stroke="#0000ff" stroke-width="5.0" stroke-linecap="round"/>
<text transform="translate(1194.8 130.1) scale(1 1.035)" font-size="62.6" text-anchor="start">Maximum REGR</text>
<line x1="1025.3" y1="190.6" x2="1177.5" y2="190.6" stroke="#14b0ff" stroke-width="5.0" stroke-linecap="round"/>
<text transform="translate(1194.8 214.7) scale(1 1.035)" font-size="62.6" text-anchor="start">Elongation rate</text>
<line x1="1025.3" y1="275.1" x2="1177.5" y2="275.1" stroke="#00c800" stroke-width="5.0" stroke-linecap="round"/>
<text transform="translate(1194.8 299.3) scale(1 1.035)" font-size="62.6" text-anchor="start">Position of peak REGR</text>
<line x1="1025.3" y1="359.6" x2="1177.5" y2="359.6" stroke="#ff64b4" stroke-width="5.0" stroke-linecap="round"/>
<text transform="translate(1194.8 383.9) scale(1 1.035)" font-size="62.6" text-anchor="start">Length of growth zone</text>
<line x1="1025.3" y1="444.2" x2="1177.5" y2="444.2" stroke="#000" stroke-width="6.6" stroke-linecap="round"/>
<text transform="translate(1194.8 468.5) scale(1 1.035)" font-size="62.6" text-anchor="start">Gravitropism tip angles</text>
<text transform="translate(158.1 1394.2) scale(1 1.035)" font-size="56.3" text-anchor="end">0</text>
<text transform="translate(158.1 1130.2) scale(1 1.035)" font-size="56.3" text-anchor="end">2</text>
<text transform="translate(158.1 866.2) scale(1 1.035)" font-size="56.3" text-anchor="end">4</text>
<text transform="translate(158.1 602.2) scale(1 1.035)" font-size="56.3" text-anchor="end">6</text>
<text transform="translate(158.1 338.2) scale(1 1.035)" font-size="56.3" text-anchor="end">8</text>
<text transform="translate(158.1 74.2) scale(1 1.035)" font-size="56.3" text-anchor="end">10</text>
<text transform="translate(204.1 1468.2) scale(1 1.035)" font-size="56.3" text-anchor="middle">0</text>
<text transform="translate(589.9 1468.2) scale(1 1.035)" font-size="56.3" text-anchor="middle">100</text>
<text transform="translate(975.6 1468.2) scale(1 1.035)" font-size="56.3" text-anchor="middle">200</text>
<text transform="translate(1361.3 1468.2) scale(1 1.035)" font-size="56.3" text-anchor="middle">300</text>
<text transform="translate(1747.1 1468.2) scale(1 1.035)" font-size="56.3" text-anchor="middle">400</text>
<text transform="translate(1024.0 1574.6) scale(1 1.035)" font-size="69.0" text-anchor="middle">Genome position (cM)</text>
<text transform="translate(72.0 686.6) rotate(-90) scale(1 1.035)" font-size="69.4" text-anchor="middle">LOD score</text>
</svg></body></html>
